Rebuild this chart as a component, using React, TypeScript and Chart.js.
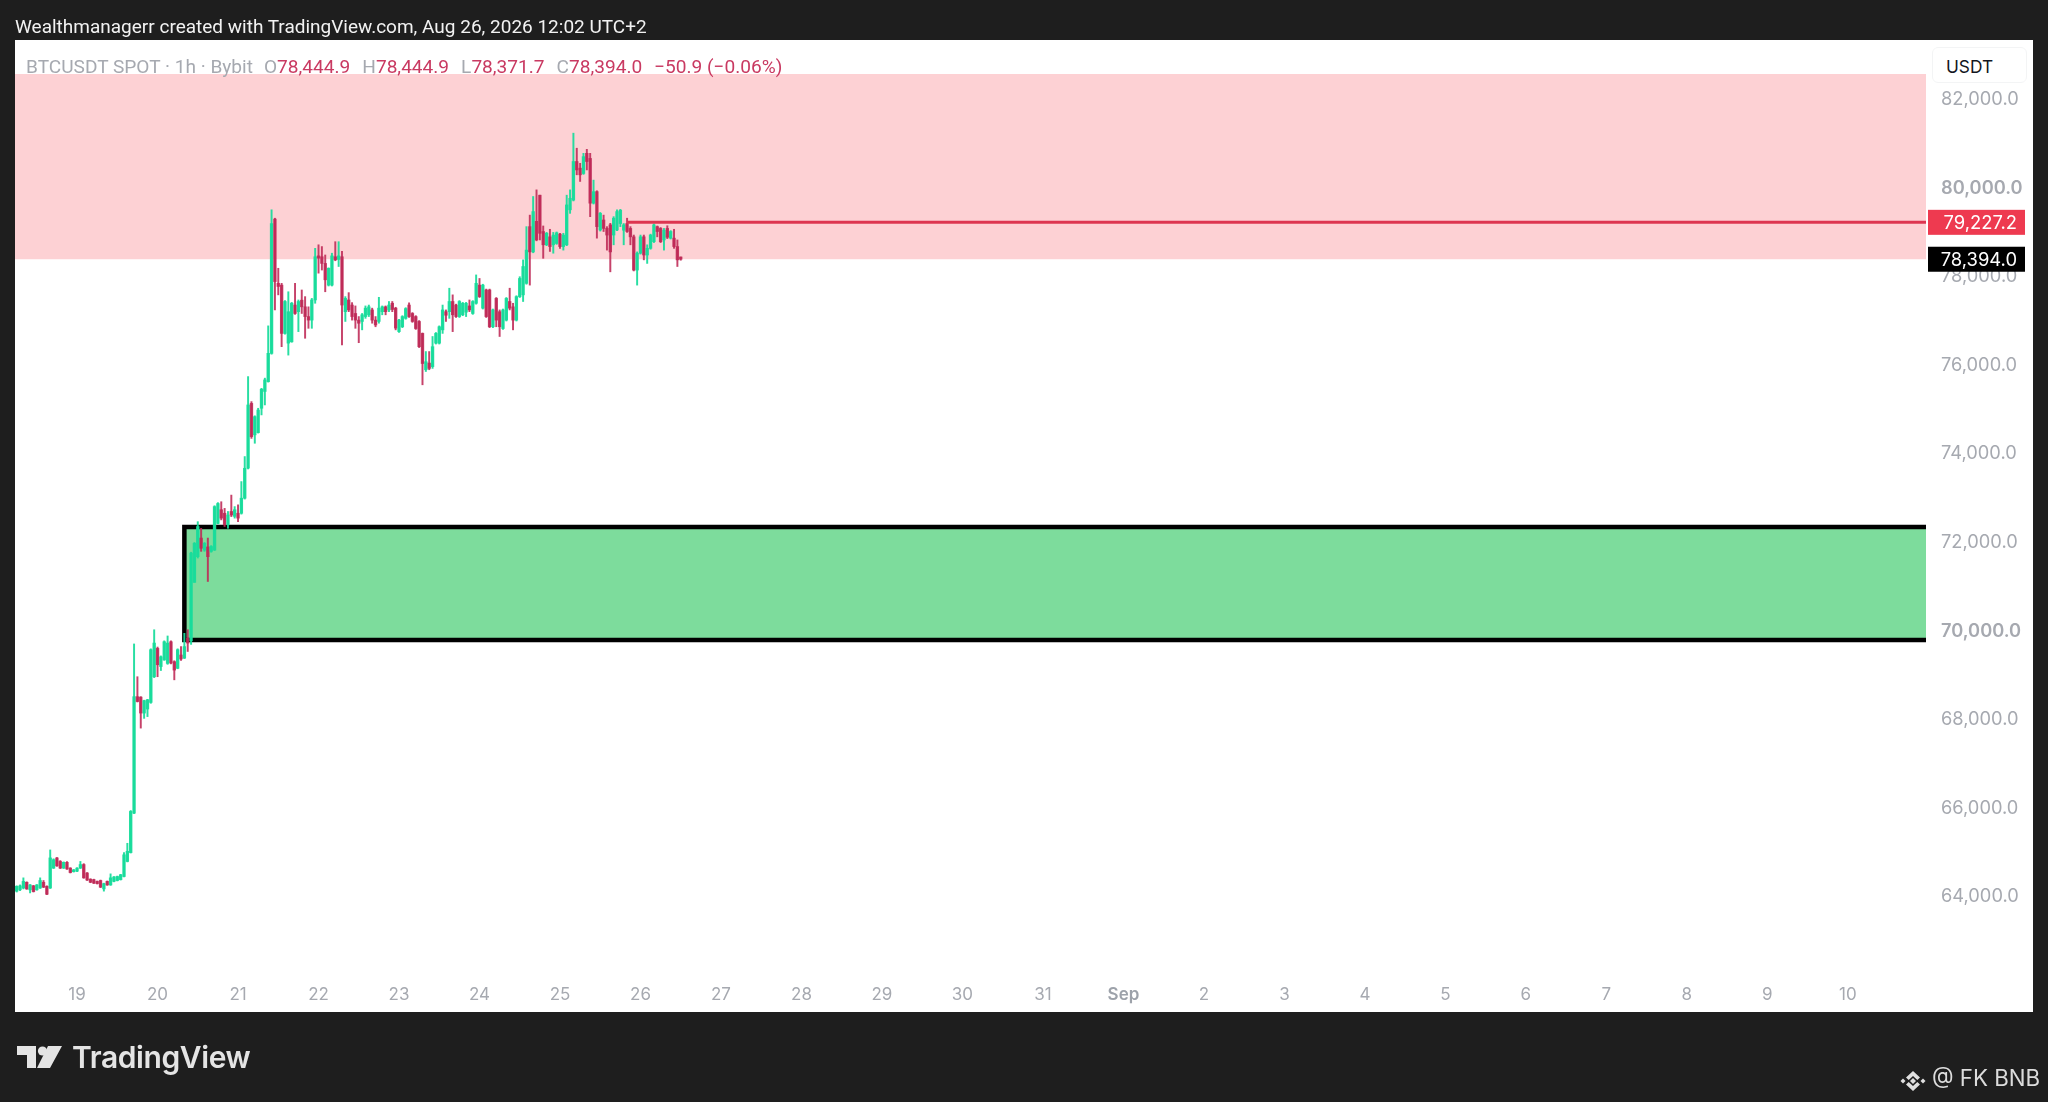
import React, { useEffect, useRef } from "react";
import { Chart, registerables } from "chart.js";

Chart.register(...registerables);

// Hours since Aug 19 00:00 of the first candle
const firstHour = -18;

const opens = [64130,64160,64200,64330,64160,64250,64160,64200,64330,64240,64200,64650,64880,64800,64650,64780,64650,64570,64580,64650,64730,64540,64400,64390,64350,64370,64180,64350,64270,64350,64370,64390,64460,64800,65000,65890,68520,68510,68150,68240,68390,68970,69610,69200,69350,69270,69760,69310,69160,69460,69390,69840,69780,71100,71680,72100,71830,71900,71800,71830,72430,72740,72660,72400,72700,72590,72660,72660,73000,73680,75140,74430,74480,75030,75410,75630,76270,79300,77850,77810,76720,76500,76530,77360,77210,77470,77320,77100,77020,77475,78470,78450,78300,77810,77810,78450,78390,78450,77210,77475,77360,77170,77020,76990,77100,77140,77250,77020,76990,77210,77320,77250,77400,77290,76760,76870,77060,77360,77170,77100,76990,76720,75900,76050,75970,76500,76500,76800,77210,77210,77440,77360,77100,77140,77200,77340,77170,77400,77810,77290,77700,77700,76870,77510,77210,76830,77020,77440,77320,77020,77550,77590,77850,79130,78560,79250,79840,79020,78720,78900,78720,78750,78960,78680,78720,79510,79730,80600,80450,80330,80785,80670,79660,79920,79055,79280,79090,79170,78940,79055,79200,79050,79200,79090,78900,78150,78530,78900,78490,78640,78790,79130,79090,78830,79090,78870,78870,78680,78444.9];
const highs = [64250,64270,64430,64340,64280,64260,64280,64430,64370,64250,65060,64860,64890,64820,64790,64800,64660,64620,64660,64800,64750,64550,64410,64400,64360,64380,64310,64360,64520,64460,64470,64510,65000,65210,65950,69710,68970,68520,68440,68460,69600,70030,69640,69440,69780,69890,69780,69330,69600,69650,69950,70030,71780,72000,72470,72320,72000,72100,71930,72830,72900,72920,72770,72700,73070,72810,72850,73375,73940,75745,75180,74860,75030,75480,75710,76890,79510,79320,78190,77850,77460,77660,77420,77850,77475,77700,77550,77320,77510,78640,78720,78680,78490,78200,78530,78790,78790,78570,77550,77640,77415,77340,77100,77170,77340,77360,77290,77100,77535,77340,77340,77440,77440,77310,77040,77120,77300,77410,77190,77120,77010,76730,76310,76310,76650,76740,76890,77360,77250,77740,77590,77380,77460,77420,77420,77475,77460,78040,77960,77830,77720,77720,77270,77530,77250,77270,77530,77740,77400,77570,78000,78380,79130,79390,79810,79960,79840,79145,79000,79070,79000,79010,78980,78980,79840,79960,81240,80900,80560,80785,80875,80785,80180,79940,79450,79390,79130,79205,79355,79510,79520,79200,79320,79130,78940,78560,78940,78940,78720,78960,79190,79145,79110,79090,79150,79040,79070,78830,78444.9];
const lows = [64110,64140,64180,64170,64090,64110,64150,64190,64210,64050,64190,64640,64690,64640,64640,64620,64540,64560,64570,64640,64420,64370,64320,64300,64290,64210,64130,64260,64260,64340,64360,64380,64450,64790,64990,65880,68400,67810,68030,68070,68370,68950,68970,69110,69340,69250,69260,68900,69150,69340,69380,69540,69700,71100,71650,71800,71800,71120,71780,71820,72420,72510,72360,72320,72585,72550,72470,72640,72980,73660,74350,74240,74470,74880,75105,75620,76250,77250,77590,76420,76700,76230,76520,77150,76760,77170,76610,76835,76835,77400,78080,78150,77660,77790,77790,78360,78230,76460,76990,77210,77020,76835,76510,76800,77060,77100,76950,76870,76950,77140,77140,77210,77210,76800,76740,76850,77040,77080,76970,76810,76400,75560,75860,75900,75930,76480,76480,76720,76990,77060,76760,77080,77080,77120,77100,77210,77150,77380,77530,77270,77080,76850,76850,76870,76650,76810,77000,77250,76800,77000,77530,77440,77830,77810,78540,78810,78830,78415,78700,78570,78530,78730,78640,78600,78700,79430,79710,80300,80150,80310,80410,79355,79640,78870,79030,79020,78600,78110,78720,79040,79130,78720,79000,78720,78130,77810,78510,78380,78300,78620,78770,78900,78770,78600,78860,78850,78640,78230,78371.7];
const closes = [64240,64250,64350,64180,64270,64120,64270,64370,64220,64060,64880,64840,64700,64650,64780,64630,64550,64610,64650,64730,64430,64380,64330,64310,64300,64220,64300,64270,64430,64450,64460,64500,64950,65030,65930,68520,68410,68150,68430,68450,69580,69730,69240,69420,69760,69730,69280,69120,69580,69370,69650,69730,71760,71980,72360,71870,71980,71680,71910,72810,72880,72550,72400,72620,72620,72740,72550,73000,73675,75105,74390,74840,74990,75460,75670,76270,79200,77890,77780,76720,77440,77210,77400,77170,77440,77320,77100,77020,77475,78450,78420,78300,77930,78190,78470,78380,78470,77360,77510,77250,77100,77020,76950,77140,77290,77320,77020,76910,77290,77320,77210,77360,77260,76840,77020,77100,77280,77100,76990,76830,76420,76040,76080,75930,76420,76720,76870,77250,77130,77440,77140,77100,77440,77400,77400,77250,77440,77850,77550,77810,77100,76870,77250,77020,76870,77250,77510,77290,77020,77550,77960,78230,78600,78560,79470,78830,78980,78720,78980,78680,78940,78990,78680,78940,79620,79770,80600,80410,80300,80710,80600,79660,79920,79130,79430,79090,78940,78560,79320,79470,79500,79170,79020,78900,78150,78530,78900,78490,78640,78940,79170,79020,78790,79050,78890,79020,78680,78380,78394];

const axisPrices = [64000,66000,68000,70000,72000,74000,76000,78000,80000,82000];
const dayLabels = ["19","20","21","22","23","24","25","26","27","28","29","30","31","Sep","2","3","4","5","6","7","8","9","10"];

const resistanceZone = [78394, 82575];
const supportZone = [69800, 72350];
const supportStartHour = 32;
const lineLevel = 79227.2;
const lineStartHour = 164;
const lastPrice = 78394.0;

const priceText = (v: number) => v.toLocaleString("en-US", { minimumFractionDigits: 1, maximumFractionDigits: 1 });

const UP = "rgba(24,220,155,0.93)";
const DOWN = "rgba(190,40,85,0.88)";
const FONT = "Inter, sans-serif";

const zonesPlugin = {
  id: "zones",
  beforeDatasetsDraw(chart: any) {
    const { ctx, chartArea: a, scales: { x, y } } = chart;
    ctx.save();
    ctx.beginPath();
    ctx.rect(a.left, a.top, a.right - a.left, a.bottom - a.top);
    ctx.clip();
    ctx.fillStyle = "#fdd1d4";
    const t = y.getPixelForValue(resistanceZone[1]);
    const b = y.getPixelForValue(resistanceZone[0]);
    ctx.fillRect(a.left, t, a.right - a.left, b - t);

    const l = x.getPixelForValue(supportStartHour);
    const gt = y.getPixelForValue(supportZone[1]);
    const gb = y.getPixelForValue(supportZone[0]);
    ctx.fillStyle = "#7ddc9c";
    ctx.fillRect(l, gt, a.right - l, gb - gt);
    ctx.strokeStyle = "#000";
    ctx.lineWidth = 4.5;
    ctx.beginPath();
    ctx.moveTo(a.right, gt);
    ctx.lineTo(l, gt);
    ctx.lineTo(l, gb);
    ctx.lineTo(a.right, gb);
    ctx.stroke();
    ctx.restore();
  },
  afterDatasetsDraw(chart: any) {
    const { ctx, chartArea: a, scales: { x, y } } = chart;
    ctx.save();
    const ly = y.getPixelForValue(lineLevel);
    ctx.strokeStyle = "#dd3550";
    ctx.lineWidth = 3;
    ctx.beginPath();
    ctx.moveTo(x.getPixelForValue(lineStartHour), ly);
    ctx.lineTo(a.right, ly);
    ctx.stroke();
    const tag = (v: number, bg: string) => {
      const c = y.getPixelForValue(v);
      ctx.fillStyle = bg;
      ctx.fillRect(a.right + 2, c - 12.5, 97, 25);
      ctx.fillStyle = "#fff";
      ctx.font = `18.4px ${FONT}`;
      ctx.textAlign = "right";
      ctx.textBaseline = "middle";
      ctx.fillText(priceText(v), a.right + 91, c + 1);
    };
    tag(lineLevel, "#ee3a50");
    tag(lastPrice, "#000");
    ctx.restore();
  },
};

export default function App() {
  const ref = useRef<HTMLCanvasElement>(null);
  useEffect(() => {
    document.body.style.margin = "0";
    document.body.style.background = "#1e1e1e";
    const hours = opens.map((_, i) => firstHour + i);
    const colors = opens.map((o, i) => (closes[i] >= o ? UP : DOWN));
    const chart = new Chart(ref.current!, {
      type: "bar",
      data: {
        datasets: [
          {
            label: "Wick",
            data: hours.map((h, i) => ({ x: h, y: [lows[i], highs[i]] })) as any,
            backgroundColor: colors,
            barThickness: 1.3,
            grouped: false,
            order: 2,
          },
          {
            label: "Body",
            data: hours.map((h, i) => ({ x: h, y: [opens[i], closes[i]] })) as any,
            backgroundColor: colors,
            barThickness: 2.7,
            grouped: false,
            minBarLength: 1.5,
            order: 1,
          },
        ],
      },
      options: {
        animation: false,
        responsive: false,
        devicePixelRatio: 1,
        layout: { padding: { left: 15, top: 40, right: 15, bottom: 89 } },
        plugins: { legend: { display: false }, tooltip: { enabled: false } },
        scales: {
          x: {
            type: "linear",
            offset: false,
            min: -18.5,
            max: 551.3,
            grid: { display: false },
            border: { display: false },
            afterFit: (s: any) => { s.height = 38; },
            ticks: {
              stepSize: 24,
              includeBounds: false,
              autoSkip: false,
              maxRotation: 0,
              padding: 2,
              color: (c: any) => (dayLabels[c.tick.value / 24] === "Sep" ? "#9da2aa" : "#a6a9b0"),
              font: (c: any) => ({ family: FONT, size: 17, weight: dayLabels[c.tick?.value / 24] === "Sep" ? "600" : "400" }),
              callback: (v: any) => dayLabels[v / 24] ?? "",
            },
          },
          y: {
            position: "right",
            min: 62237,
            max: 83343,
            grid: { display: false },
            border: { display: false },
            afterFit: (s: any) => { s.width = 107; },
            afterBuildTicks: (s: any) => { s.ticks = axisPrices.map((value) => ({ value })); },
            ticks: {
              includeBounds: false,
              padding: 7,
              mirror: false,
              color: "#a6a9b0",
              font: (c: any) => ({ family: FONT, size: 18.3, weight: c.tick?.value === 80000 || c.tick?.value === 70000 ? "600" : "400" }),
              callback: (v: any) => priceText(v),
            },
          },
        },
      },
      plugins: [zonesPlugin],
    } as any);
    return () => chart.destroy();
  }, []);

  const txt: React.CSSProperties = { position: "absolute", whiteSpace: "nowrap", fontFamily: FONT };
  return (
    <div style={{ position: "relative", width: 2048, height: 1102, background: "#1e1e1e", overflow: "hidden" }}>
      <div style={{ position: "absolute", left: 15, top: 40, width: 2018, height: 972, background: "#fff" }} />
      <canvas ref={ref} width={2048} height={1102} style={{ position: "absolute", left: 0, top: 0, width: 2048, height: 1102 }} />
      <div style={{ ...txt, left: 15, top: 15, fontSize: 19, color: "#f2f2f2", fontFamily: "Roboto, sans-serif" }}>
        Wealthmanagerr created with TradingView.com, Aug 26, 2026 12:02 UTC+2
      </div>
      <div style={{ ...txt, left: 26, top: 55, fontSize: 19.1, color: "#a6a9b0", fontFamily: "Roboto, sans-serif" }}>
        BTCUSDT SPOT · 1h · Bybit
        <span style={{ marginLeft: 11 }}>O<span style={{ color: "#c93a62" }}>78,444.9</span></span>
        <span style={{ marginLeft: 12 }}>H<span style={{ color: "#c93a62" }}>78,444.9</span></span>
        <span style={{ marginLeft: 12 }}>L<span style={{ color: "#c93a62" }}>78,371.7</span></span>
        <span style={{ marginLeft: 12 }}>C<span style={{ color: "#c93a62" }}>78,394.0</span></span>
        <span style={{ marginLeft: 12, color: "#c93a62" }}>−50.9 (−0.06%)</span>
      </div>
      <div style={{ ...txt, left: 1932, top: 47, width: 95, height: 36, boxSizing: "border-box", border: "1px solid #f3f4f5", borderRadius: 6, background: "#fff" }} />
      <div style={{ ...txt, left: 1946, top: 56, fontSize: 17.3, color: "#131722" }}>USDT</div>
      <svg style={{ position: "absolute", left: 17, top: 1046 }} width="46" height="23" viewBox="0 0 46 23">
        <path d="M0 0H19V22H10V9H0Z M31 0H45L33 22H20Z" fill="#e4e4e4" />
        <circle cx="25.5" cy="5" r="4.6" fill="#e4e4e4" />
      </svg>
      <div style={{ ...txt, left: 72, top: 1039, fontSize: 30, fontWeight: 600, color: "#e4e4e4", letterSpacing: -0.4 }}>TradingView</div>
      <svg style={{ position: "absolute", left: 1899, top: 1071 }} width="28" height="20" viewBox="0 0 28 20">
        <g fill="#e0e0e0">
          <path d="M14 0L21 6.5L18.3 9L14 5L9.7 9L7 6.5Z" />
          <path d="M14 20L21 13.5L18.3 11L14 15L9.7 11L7 13.5Z" />
          <path d="M14 7L17 10L14 13L11 10Z" />
          <path d="M4 7.5L6.5 10L4 12.5L1.5 10Z" />
          <path d="M24 7.5L26.5 10L24 12.5L21.5 10Z" />
        </g>
      </svg>
      <div style={{ ...txt, left: 1932, top: 1064, fontSize: 22.3, color: "#dcdcdc" }}>@ FK BNB</div>
    </div>
  );
}
